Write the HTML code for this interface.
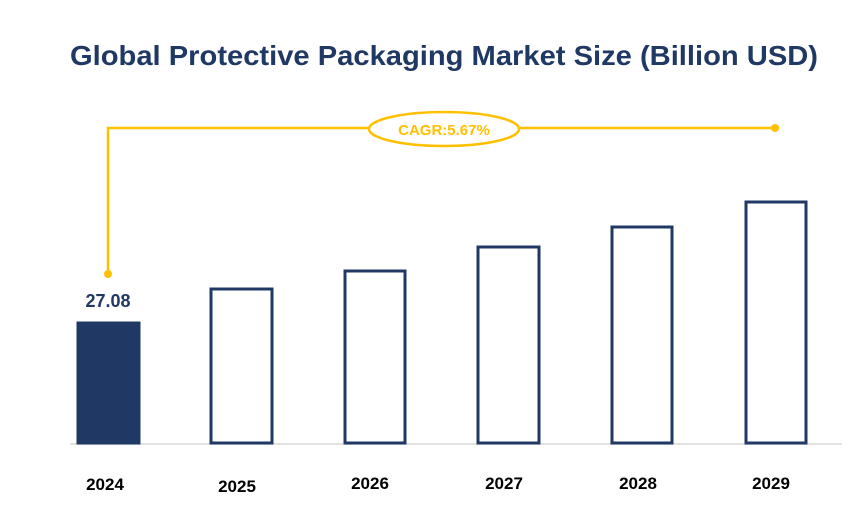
<!DOCTYPE html>
<html><head><style>
body{margin:0;background:#fff;}
</style></head><body>
<svg width="865" height="511" xmlns="http://www.w3.org/2000/svg" style="display:block">
<rect width="865" height="511" fill="#fff"/>
<text x="444" y="65" text-anchor="middle" font-family="Liberation Sans, sans-serif" font-weight="bold" font-size="28" fill="#1f3864" textLength="748" lengthAdjust="spacingAndGlyphs">Global Protective Packaging Market Size (Billion USD)</text>
<line x1="70" y1="444" x2="842" y2="444" stroke="#d9d9d9" stroke-width="1.5"/>
<g fill="#fff" stroke="#1f3864" stroke-width="3">
<rect x="78" y="323" width="61" height="120" fill="#1f3864"/>
<rect x="211" y="289" width="61" height="154"/>
<rect x="345" y="271" width="60" height="172"/>
<rect x="478" y="247" width="61" height="196"/>
<rect x="612" y="227" width="60" height="216"/>
<rect x="746" y="202" width="60" height="241"/>
</g>
<g stroke="#ffc000" stroke-width="2.5" fill="none">
<polyline points="108,274 108,128 368,128"/>
<line x1="520" y1="128" x2="775" y2="128"/>
<ellipse cx="444" cy="129" rx="75" ry="17"/>
</g>
<circle cx="108" cy="274" r="4" fill="#ffc000"/>
<circle cx="775" cy="128" r="4" fill="#ffc000"/>
<text x="444" y="135" text-anchor="middle" font-family="Liberation Sans, sans-serif" font-weight="bold" font-size="15" fill="#ffc000">CAGR:5.67%</text>
<text x="108" y="307" text-anchor="middle" font-family="Liberation Sans, sans-serif" font-weight="bold" font-size="18" fill="#1f3864">27.08</text>
<g font-family="Liberation Sans, sans-serif" font-weight="bold" font-size="17" fill="#000" text-anchor="middle">
<text x="105" y="490">2024</text>
<text x="237" y="492">2025</text>
<text x="370" y="489">2026</text>
<text x="504" y="489">2027</text>
<text x="638" y="489">2028</text>
<text x="771" y="489">2029</text>
</g>
</svg>
</body></html>
